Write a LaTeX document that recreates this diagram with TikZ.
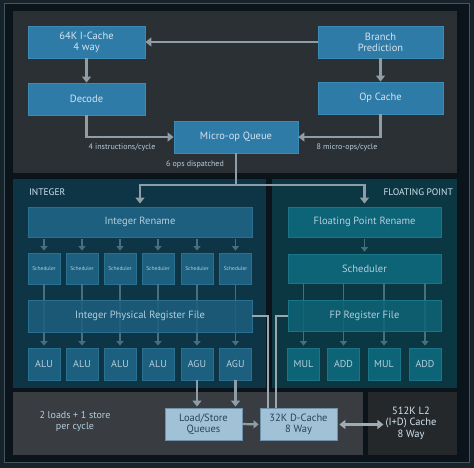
\documentclass[tikz,border=0pt]{standalone}
\usepackage{fontspec}
\setmainfont{PT Sans}
\usetikzlibrary{arrows.meta,calc}
\definecolor{bgout}{HTML}{17232B}
\definecolor{bgin}{HTML}{0B141A}
\definecolor{frameln}{HTML}{46565F}
\definecolor{toppanel}{HTML}{2B3035}
\definecolor{intpanel}{HTML}{0D3546}
\definecolor{fppanel}{HTML}{0B3743}
\definecolor{botpanel}{HTML}{393D41}
\definecolor{l2panel}{HTML}{25282B}
\definecolor{topbox}{HTML}{2F7BA7}
\definecolor{topboxln}{HTML}{3C8BB6}
\definecolor{intbox}{HTML}{1D5F7E}
\definecolor{intboxln}{HTML}{2A7090}
\definecolor{fpbox}{HTML}{0E6477}
\definecolor{fpboxln}{HTML}{1A7589}
\definecolor{lightbox}{HTML}{A1C1D7}
\definecolor{lightboxln}{HTML}{6F93AC}
\definecolor{lighttxt}{HTML}{D3E4F0}
\definecolor{midtxt}{HTML}{B3CEDD}
\definecolor{darktxt}{HTML}{26455B}
\definecolor{graylink}{HTML}{8F9DA6}
\definecolor{teallink}{HTML}{44707F}
\tikzset{
  topnode/.style={draw=topboxln,fill=topbox,line width=0.8pt,text=lighttxt,font=\fontsize{10.5}{11}\selectfont,align=center,inner sep=0pt},
  intnode/.style={draw=intboxln,fill=intbox,line width=0.8pt,text=midtxt,font=\fontsize{10.5}{11}\selectfont,align=center,inner sep=0pt},
  fpnode/.style={draw=fpboxln,fill=fpbox,line width=0.8pt,text=midtxt,font=\fontsize{10.5}{11}\selectfont,align=center,inner sep=0pt},
  schednode/.style={intnode,minimum width=32pt,minimum height=31pt,font=\fontsize{5.5}{6}\selectfont},
  unitnode/.style={minimum width=32pt,minimum height=32pt,font=\fontsize{10}{11}\selectfont},
  lsnode/.style={draw=lightboxln,fill=lightbox,line width=0.8pt,text=darktxt,font=\fontsize{10.5}{11.5}\selectfont,align=center,inner sep=0pt,minimum width=77pt,minimum height=32pt},
  smalllabel/.style={text=midtxt,font=\fontsize{8}{9}\selectfont,inner sep=0pt},
  paneltitle/.style={text=lighttxt,font=\fontsize{9.5}{10}\selectfont,inner sep=0pt},
  grayarrow/.style={draw=graylink,line width=2.6pt,-{Triangle[length=6pt,width=9pt]}},
  grayline/.style={draw=graylink,line width=2.6pt},
  tealarrow/.style={draw=teallink,line width=1.8pt,-{Triangle[length=4.5pt,width=7pt]}},
  pipeline/.style={draw=graylink!90!white,line width=2.6pt},
}
\begin{document}
\begin{tikzpicture}[x=1pt,y=-1pt]
\useasboundingbox (0,0) rectangle (474,468);
% background and frame
\fill[bgout] (0,0) rectangle (474,468);
\filldraw[fill=bgin,draw=frameln,line width=1pt] (4,4) rectangle (469,462);
% panels
\fill[toppanel] (13,11) rectangle (457,173);
\fill[intpanel] (13,179) rectangle (266,388);
\fill[fppanel] (272,179) rectangle (457,388);
\fill[botpanel] (13,392) rectangle (363,455);
\fill[l2panel] (368,392) rectangle (457,455);

% front end
\node[topnode,minimum width=117pt,minimum height=32pt] (icache) at (86.5,42) {64K I-Cache\\4 way};
\node[topnode,minimum width=125pt,minimum height=32pt] (branch) at (380.5,42) {Branch\\Prediction};
\node[topnode,minimum width=117pt,minimum height=32pt] (decode) at (86.5,99) {Decode};
\node[topnode,minimum width=125pt,minimum height=32pt] (opcache) at (380.5,98) {Op Cache};
\node[topnode,minimum width=124pt,minimum height=32pt] (uopq) at (236,137) {Micro-op Queue};
\node[smalllabel] (lbl4) at (122,147.5) {4 instructions/cycle};
\node[smalllabel] (lbl8) at (347,147.5) {8 micro-ops/cycle};
\node[smalllabel] (lbl6) at (195,164.5) {6 ops dispatched};

\draw[grayarrow] (branch.west) -- (icache.east);
\draw[grayarrow] (icache.south) -- (decode.north);
\draw[grayarrow] (branch.south) -- (opcache.north);
\draw[grayarrow] (decode.south) |- (uopq.west);
\draw[grayarrow] (opcache.south) |- (uopq.east);

% integer
\node[paneltitle,anchor=west] (inttitle) at (29,192) {INTEGER};
\node[intnode,minimum width=224pt,minimum height=30pt] (irename) at (140,222) {Integer Rename};
\foreach \i/\x in {1/44,2/82,3/120,4/158,5/197,6/235.5}{
  \node[schednode] (s\i) at (\x,268.5) {Scheduler};
}
\node[intnode,unitnode] (u1) at (44,364) {ALU};
\node[intnode,unitnode] (u2) at (82,364) {ALU};
\node[intnode,unitnode] (u3) at (120,364) {ALU};
\node[intnode,unitnode] (u4) at (158,364) {ALU};
\node[intnode,unitnode] (u5) at (197,364) {AGU};
\node[intnode,unitnode] (u6) at (235.5,364) {AGU};
\foreach \i in {1,...,6}{
  \draw[tealarrow,shorten <=2pt,shorten >=2pt] (s\i.north |- irename.south) -- (s\i.north);
  \draw[tealarrow,shorten >=2pt] (s\i.south) -- (u\i.north);
}
\node[intnode,minimum width=224pt,minimum height=32pt,fill opacity=0.85,text opacity=1] (irf) at (140,316) {Integer Physical Register File};

% floating point
\node[paneltitle,anchor=east] (fptitle) at (453,192) {FLOATING POINT};
\node[fpnode,minimum width=153pt,minimum height=30pt] (fprename) at (364.5,222) {Floating Point Rename};
\node[fpnode,minimum width=153pt,minimum height=29pt] (fpsched) at (364.5,268.5) {Scheduler};
\node[fpnode,unitnode] (f1) at (303.5,364) {MUL};
\node[fpnode,unitnode] (f2) at (343.5,364) {ADD};
\node[fpnode,unitnode] (f3) at (384,364) {MUL};
\node[fpnode,unitnode] (f4) at (425,364) {ADD};
\draw[tealarrow,shorten <=2pt,shorten >=2pt] (fprename.south) -- (fpsched.north);
\foreach \i in {1,...,4}{
  \draw[tealarrow,shorten >=2pt] (f\i.north |- fpsched.south) -- (f\i.north);
}
\node[fpnode,minimum width=153pt,minimum height=31pt,fill opacity=0.85,text opacity=1] (fprf) at (364.5,316) {FP Register File};

% dispatch
\coordinate (fork) at (236,185);
\draw[grayarrow,shorten >=3pt] (uopq.south) -- (fork) -| (irename.north);
\draw[grayarrow,shorten >=3pt] (fork) -| (fprename.north);

% load/store
\node[lsnode] (lsq) at (203.5,424) {Load/Store\\Queues};
\node[lsnode] (dcache) at (298.5,424.5) {32K D-Cache\\8 Way};
\node[text=lighttxt,font=\fontsize{10.5}{11.5}\selectfont,align=center,inner sep=0pt] (l2) at (411,423) {512K L2\\(I+D) Cache\\8 Way};
\node[text=midtxt,font=\fontsize{10}{11}\selectfont,align=center,inner sep=0pt] (ldst) at (75,421.5) {2 loads + 1 store\\per cycle};

\draw[grayarrow,line width=2.2pt,shorten >=1pt] (u5.south) -- (u5.south |- lsq.north);
\draw[grayarrow,line width=2.2pt,shorten >=1pt] (u6.south) -- (u6.south |- lsq.north);
\draw[grayarrow,line width=2.2pt,-{Triangle[length=5pt,width=8pt]},shorten >=1pt] (lsq.east) -- (dcache.west);
\draw[draw=graylink!85!white,line width=2.2pt,{Triangle[length=6pt,width=9pt]}-{Triangle[length=6pt,width=9pt]},shorten <=2pt,shorten >=2pt] (dcache.east) -- (l2.west |- dcache.east);

% register file to D-cache pipes
\coordinate (pipeA) at (268,316);
\coordinate (pipeB) at (276,316);
\draw[pipeline] (irf.east) -- (pipeA) -- (pipeA |- dcache.north);
\draw[pipeline] (fprf.west) -- (pipeB) -- (pipeB |- dcache.north);
\end{tikzpicture}
\end{document}
